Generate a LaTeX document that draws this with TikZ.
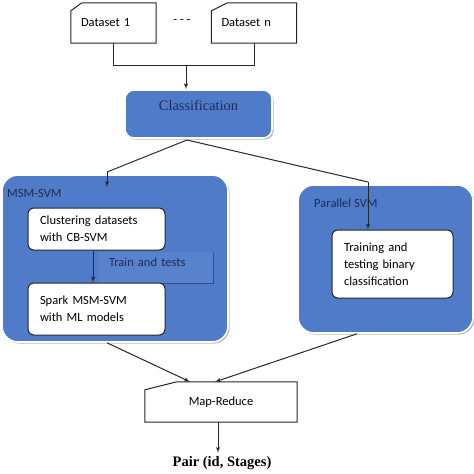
\documentclass[tikz,border=0pt]{standalone}
\usepackage{fontspec}
\setmainfont{Carlito}
\newfontfamily\timesfont{Liberation Serif}
\usepackage{tikz}
\usetikzlibrary{positioning}
\usetikzlibrary{shapes,arrows,shadows}
\definecolor{boxblue}{HTML}{4F7BC9}
\definecolor{trainblue}{HTML}{5882CC}
\definecolor{navy}{HTML}{1F2B57}
\definecolor{linegray}{HTML}{262626}
\tikzstyle{card} = [rectangle, inner xsep=10pt, text width=65pt, align=left,
    minimum width=85pt, minimum height=40pt, font=\fontsize{12.5}{15}\selectfont]
\tikzstyle{panel} = [rectangle, draw=white, line width=1.6pt, fill=boxblue,
    rounded corners=16pt, drop shadow={fill=gray!70, opacity=.8, shadow xshift=1.6pt, shadow yshift=-1.6pt}]
\tikzstyle{block} = [rectangle, draw=linegray, line width=1pt, fill=white,
    rounded corners=6pt, inner xsep=12pt, align=left,
    font=\fontsize{12.5}{17}\selectfont]
\tikzstyle{tag} = [anchor=west, inner sep=0pt, text=navy, font=\fontsize{12.5}{15}\selectfont]
\tikzstyle{line} = [draw=linegray, line width=1pt]
\tikzstyle{arrow} = [draw=linegray, line width=1pt, -latex']

\begin{document}
\begin{tikzpicture}[x=1pt, y=-1pt]
        \useasboundingbox (0,0) rectangle (474,474);
        % inputs
        \node [card] (d1) at (113.5,23) {Dataset 1};
        \node [card] (dn) at (254,23) {Dataset n};
        \node [font=\fontsize{12.5}{15}\selectfont] (dots) at (182,22) {- - -};
        \draw [line, fill=white] ([yshift=-8pt]d1.north west) -- ([xshift=11pt]d1.north west) -- (d1.north east) -- (d1.south east) -- (d1.south west) -- cycle;
        \draw [line, fill=white] ([yshift=-8pt]dn.north west) -- ([xshift=16pt]dn.north west) -- (dn.north east) -- (dn.south east) -- (dn.south west) -- cycle;
        \node [card] at (d1) {Dataset 1};
        \node [card] at (dn) {Dataset n};
        \coordinate (join) at (186,65);
        % classification
        \node [panel, rounded corners=9pt, minimum width=147pt, minimum height=48pt,
            text=navy, font=\timesfont\fontsize{14.4}{17}\selectfont,
            text height=10pt, text depth=17pt] (cls) at (198.5,114) {Classification};
        \coordinate (split) at (187,140);
        % the two methods
        \node [panel, minimum width=226pt, minimum height=167pt] (msm) at (115,258.5) {};
        \node [panel, minimum width=175pt, minimum height=148pt] (par) at (385.5,259) {};
        \node [tag] (msmlbl) at (7,193) {MSM-SVM};
        \node [tag] (parlbl) at (314,203) {Parallel SVM};
        \node [rectangle, fill=trainblue, minimum width=115pt, minimum height=31pt,
            anchor=center, inner xsep=11pt, text width=93pt, align=left, text=navy,
            font=\fontsize{12.5}{15}\selectfont, text height=9pt, text depth=12pt,
            drop shadow={fill=navy, opacity=.6, shadow xshift=1pt, shadow yshift=-1pt}] (tt) at (155.5,267.5) {Train and tests};
        \node [block, text width=113pt, minimum width=137pt, minimum height=42pt] (clus) at (96.5,229) {Clustering datasets\\with CB-SVM};
        \node [block, text width=113pt, minimum width=137pt, minimum height=52pt] (spark) at (96.5,309) {Spark MSM-SVM\\with ML models};
        \node [block, text width=97pt, minimum width=121pt, minimum height=68pt] (train) at (392.5,264) {Training and\\testing binary\\classification};
        \coordinate (kl) at (107,172);
        \coordinate (kl2) at (107,187);
        \coordinate (kr) at (368,182);
        % output
        \node [rectangle, minimum width=152pt, minimum height=40pt,
            font=\fontsize{12.5}{15}\selectfont] (mr) at (221,402) {};
        \draw [line, fill=white] (mr.south west) -- ([yshift=-8pt]mr.north west) -- ([xshift=32pt]mr.north west) -- (mr.north east) -- (mr.south east) -- cycle;
        \node [font=\fontsize{12.5}{15}\selectfont] (mrtxt) at (mr) {Map-Reduce};
        \node [font=\timesfont\bfseries\fontsize{14.5}{17}\selectfont] (pair) at (222,463) {Pair (id, Stages)};
        % edges
        \path [line] (d1.south) |- (join);
        \path [line] (dn.south) |- (join);
        \path [arrow] (join) -- (join |- cls.north);
        \path [line] (split) -- (kl);
        \path [arrow] (kl) -- (kl2);
        \path [line] (split) -- (kr);
        \path [arrow] (kr) -- (kr |- train.north);
        \path [arrow] ([xshift=-3.5pt]clus.south) -- ([xshift=-3.5pt]spark.north);
        \path [arrow] ([xshift=-8pt]msm.south) -- ([xshift=-31pt]mr.north);
        \path [arrow] ([xshift=-28.5pt]par.south) -- ([xshift=-6pt]mr.north);
        \path [arrow] ([xshift=-3pt]mr.south) -- ([xshift=-3pt]mr.south |- pair.north);
    \end{tikzpicture}
\end{document}
